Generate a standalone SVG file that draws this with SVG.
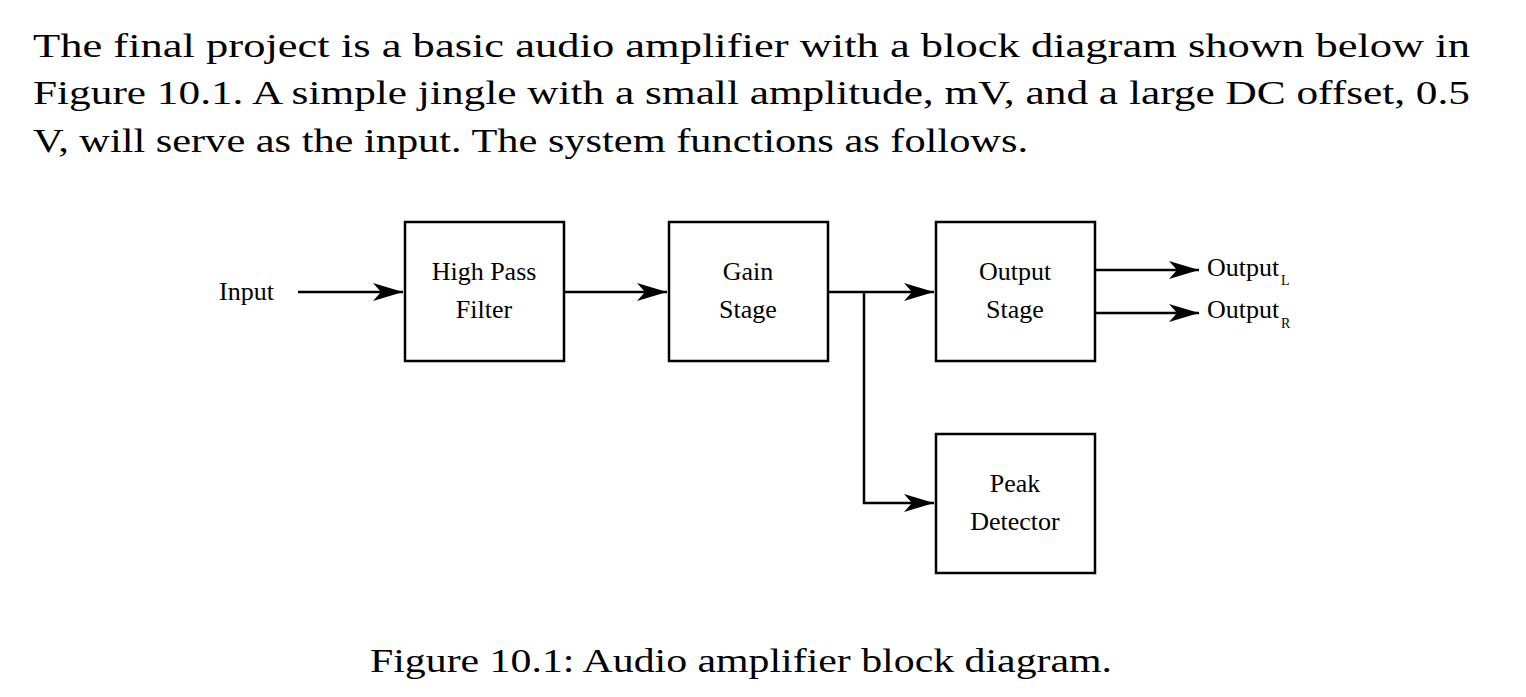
<svg xmlns="http://www.w3.org/2000/svg" width="1526" height="697" viewBox="0 0 1526 697">
<defs>
<style>
.p{font-family:"Liberation Serif",serif;font-size:34px;fill:#000}
.n{font-family:"Liberation Serif",serif;font-size:26px;fill:#000;text-anchor:middle}
.l{font-family:"Liberation Serif",serif;font-size:26px;fill:#000}
.s{font-family:"Liberation Serif",serif;font-size:14px;fill:#000}
.b{fill:#fff;stroke:#000;stroke-width:2.5}
.c{fill:none;stroke:#000;stroke-width:2.5}
</style>
<marker id="a" markerWidth="32" markerHeight="20" refX="30" refY="10" orient="auto" markerUnits="userSpaceOnUse">
<path d="M0,1 L30,10 L0,19 L8,10 Z" fill="#000"/>
</marker>
</defs>
<rect width="1526" height="697" fill="#fff"/>
<text class="p" x="33" y="57" textLength="1437" lengthAdjust="spacingAndGlyphs">The final project is a basic audio amplifier with a block diagram shown below in</text>
<text class="p" x="33" y="104" textLength="1437" lengthAdjust="spacingAndGlyphs">Figure 10.1. A simple jingle with a small amplitude, mV, and a large DC offset, 0.5</text>
<text class="p" x="33" y="152" textLength="995" lengthAdjust="spacingAndGlyphs">V, will serve as the input. The system functions as follows.</text>
<g id="input"><text class="l" x="219" y="300">Input</text></g>
<g id="hpf"><rect class="b" x="405" y="222" width="159" height="139"/><text class="n" x="484" y="280">High Pass</text><text class="n" x="484" y="318">Filter</text></g>
<g id="gain"><rect class="b" x="669" y="222" width="159" height="139"/><text class="n" x="748" y="280">Gain</text><text class="n" x="748" y="318">Stage</text></g>
<g id="out"><rect class="b" x="936" y="222" width="159" height="139"/><text class="n" x="1015" y="280">Output</text><text class="n" x="1015" y="318">Stage</text></g>
<g id="peak"><rect class="b" x="936" y="434" width="159" height="139"/><text class="n" x="1015" y="492">Peak</text><text class="n" x="1015" y="530">Detector</text></g>
<g id="outL"><text class="l" x="1207" y="276">Output</text><text class="s" x="1281" y="285">L</text></g>
<g id="outR"><text class="l" x="1207" y="318">Output</text><text class="s" x="1281" y="328">R</text></g>
<g id="connectors">
<path class="c" d="M298,292 H403" marker-end="url(#a)"/>
<path class="c" d="M564,292 H667" marker-end="url(#a)"/>
<path class="c" d="M828,292 H934" marker-end="url(#a)"/>
<path class="c" d="M864,292 V503 H934" marker-end="url(#a)"/>
<path class="c" d="M1095,270 H1199" marker-end="url(#a)"/>
<path class="c" d="M1095,313 H1199" marker-end="url(#a)"/>
</g>
<text class="p" x="370" y="672" textLength="742" lengthAdjust="spacingAndGlyphs">Figure 10.1: Audio amplifier block diagram.</text>
</svg>
